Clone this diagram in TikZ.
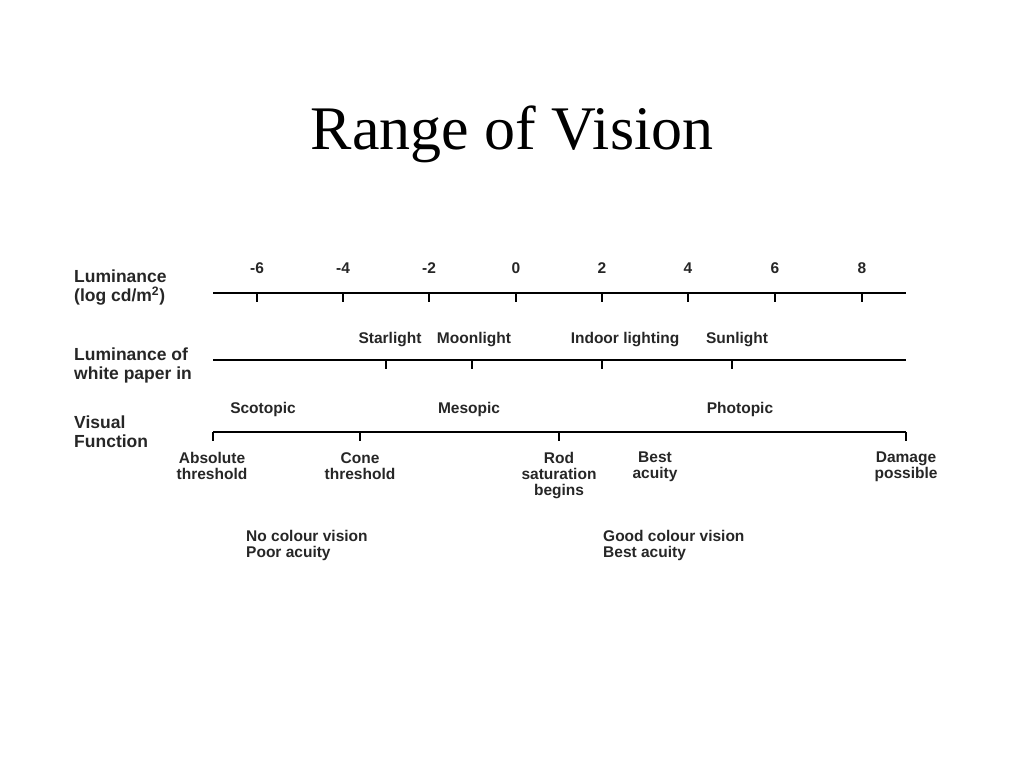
\documentclass[tikz,border=0pt]{standalone}
\usepackage{fontspec}
\setmainfont{Liberation Serif}
\newfontfamily\diafont{Liberation Sans}
\usetikzlibrary{calc}

\begin{document}
\begin{tikzpicture}[x=1pt, y=-1pt]
            \useasboundingbox (0,0) rectangle (1024,768);
            \tikzset{axisline/.style={line width=2.4pt,black},
                     tickmark/.style={line width=2.4pt,black},
                     lbl/.style={font=\diafont\bfseries\fontsize{15.5}{16}\selectfont, inner sep=0pt, align=center, text=black!85},
                     sidelbl/.style={font=\diafont\bfseries\fontsize{17.5}{19}\selectfont, inner sep=0pt, align=left, anchor=west, text=black!85}}

            \node (title) at (512,134) {\fontsize{62}{66}\selectfont Range of Vision};

            % row labels
            \node[sidelbl] (lum) at (74,288) {Luminance\\(log cd/m\textsuperscript{2})};
            \node[sidelbl] (paper) at (74,365) {Luminance of\\white paper in};
            \node[sidelbl] (func) at (74,432) {Visual\\Function};

            % luminance scale
            \draw [axisline] (213,293) coordinate (a0) -- (906,293) coordinate (a1);
            \foreach \x/\v in {257/-6,343/-4,429/-2,516/0,602/2,688/4,775/6,862/8} {
            \draw [tickmark] (\x,293) -- (\x,302);
            \node[lbl, text height=11pt, text depth=0pt] (n\x) at (\x,268) {\v};}

            % white paper
            \draw [axisline] (213,360) coordinate (b0) -- (906,360) coordinate (b1);
            \foreach \x in {386,472,602,732} {
            \draw [tickmark] (\x,360) -- (\x,369);}
            \node[lbl] (star) at (390,340) {Starlight};
            \node[lbl] (moon) at (474,340) {Moonlight};
            \node[lbl] (indoor) at (625,340) {Indoor lighting};
            \node[lbl] (sun) at (737,340) {Sunlight};

            % visual function
            \draw [axisline] (213,432) coordinate (c0) -- (906,432) coordinate (c1);
            \foreach \x in {213,360,559,906} {
            \draw [tickmark] (\x,432) -- (\x,441);}
            \node[lbl] (scot) at (263,409) {Scotopic};
            \node[lbl] (meso) at (469,409) {Mesopic};
            \node[lbl] (phot) at (740,409) {Photopic};

            \node[lbl, anchor=north] (abs) at (212,452) {Absolute\\threshold};
            \node[lbl, anchor=north] (cone) at (360,452) {Cone\\threshold};
            \node[lbl, anchor=north] (rod) at (559,452) {Rod\\saturation\\begins};
            \node[lbl, anchor=north] (best) at (655,452) {Best\\acuity};
            \node[lbl, anchor=north] (dmg) at (906,452) {Damage\\possible};

            \node[lbl, align=left, anchor=west] (nocol) at (246,545) {No colour vision\\Poor acuity};
            \node[lbl, align=left, anchor=west] (good) at (603,545) {Good colour vision\\Best acuity};
        \end{tikzpicture}
\end{document}
